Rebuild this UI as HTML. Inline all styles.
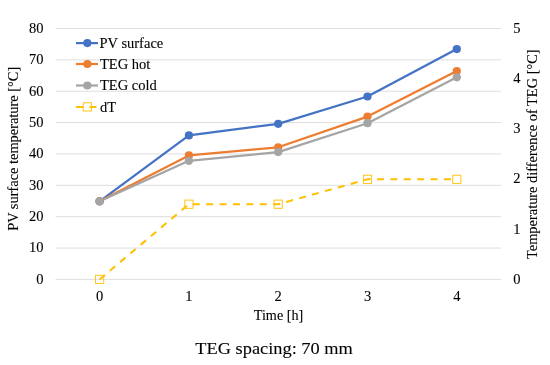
<!DOCTYPE html>
<html><head><meta charset="utf-8"><style>
html,body{margin:0;padding:0;background:#fff;width:550px;height:365px;overflow:hidden}
svg{display:block;filter:blur(0.35px)}
text{font-family:"Liberation Serif",serif;fill:#000;stroke:#000;stroke-width:0.1px}
</style></head><body>
<svg width="550" height="365" viewBox="0 0 550 365">
<g stroke="#dedede" stroke-width="1"><line x1="55.5" y1="279.40" x2="501" y2="279.40"/><line x1="55.5" y1="248.04" x2="501" y2="248.04"/><line x1="55.5" y1="216.67" x2="501" y2="216.67"/><line x1="55.5" y1="185.31" x2="501" y2="185.31"/><line x1="55.5" y1="153.95" x2="501" y2="153.95"/><line x1="55.5" y1="122.58" x2="501" y2="122.58"/><line x1="55.5" y1="91.22" x2="501" y2="91.22"/><line x1="55.5" y1="59.86" x2="501" y2="59.86"/><line x1="55.5" y1="28.50" x2="501" y2="28.50"/></g>
<g font-size="14.5" text-anchor="end"><text x="43.6" y="283.70">0</text><text x="43.6" y="252.34">10</text><text x="43.6" y="220.97">20</text><text x="43.6" y="189.61">30</text><text x="43.6" y="158.25">40</text><text x="43.6" y="126.88">50</text><text x="43.6" y="95.52">60</text><text x="43.6" y="64.16">70</text><text x="43.6" y="32.80">80</text></g>
<g font-size="14.5" text-anchor="start"><text x="513.2" y="283.70">0</text><text x="513.2" y="233.52">1</text><text x="513.2" y="183.34">2</text><text x="513.2" y="133.16">3</text><text x="513.2" y="82.98">4</text><text x="513.2" y="32.80">5</text></g>
<g font-size="14.5" text-anchor="middle"><text x="99.60" y="301.2">0</text><text x="188.90" y="301.2">1</text><text x="278.20" y="301.2">2</text><text x="367.50" y="301.2">3</text><text x="456.80" y="301.2">4</text></g>
<text font-size="14.2" text-anchor="middle" x="278.5" y="320.2">Time [h]</text>
<text font-size="14.4" text-anchor="middle" transform="translate(17.9,148.8) rotate(-90)">PV surface temperature [°C]</text>
<text font-size="14.4" text-anchor="middle" transform="translate(537.2,154.2) rotate(-90)">Temperature difference of TEG [°C]</text>
<text font-size="17.6" text-anchor="middle" x="274.1" y="353.5" textLength="157.5" lengthAdjust="spacingAndGlyphs">TEG spacing: 70 mm</text>
<g fill="none" stroke-width="2.25" stroke-linejoin="round">
<polyline stroke="#4472C4" points="99.60,201.30 188.90,135.40 278.20,123.80 367.50,96.50 456.80,49.10"/>
<polyline stroke="#ED7D31" points="99.60,201.30 188.90,155.40 278.20,147.30 367.50,116.60 456.80,71.00"/>
<polyline stroke="#A5A5A5" points="99.60,201.30 188.90,160.80 278.20,152.10 367.50,123.20 456.80,77.30"/>
</g>
<g fill="#4472C4"><circle cx="99.60" cy="201.30" r="4.1"/><circle cx="188.90" cy="135.40" r="4.1"/><circle cx="278.20" cy="123.80" r="4.1"/><circle cx="367.50" cy="96.50" r="4.1"/><circle cx="456.80" cy="49.10" r="4.1"/></g>
<g fill="#ED7D31"><circle cx="99.60" cy="201.30" r="4.1"/><circle cx="188.90" cy="155.40" r="4.1"/><circle cx="278.20" cy="147.30" r="4.1"/><circle cx="367.50" cy="116.60" r="4.1"/><circle cx="456.80" cy="71.00" r="4.1"/></g>
<g fill="#A5A5A5"><circle cx="99.60" cy="201.30" r="4.1"/><circle cx="188.90" cy="160.80" r="4.1"/><circle cx="278.20" cy="152.10" r="4.1"/><circle cx="367.50" cy="123.20" r="4.1"/><circle cx="456.80" cy="77.30" r="4.1"/></g>
<polyline fill="none" stroke="#FFC000" stroke-width="2" stroke-dasharray="7 6.4" points="99.60,279.40 188.90,204.20 278.20,204.20 367.50,179.30 456.80,179.30"/>
<g fill="none" stroke="#FFC000" stroke-width="0.9"><rect x="95.50" y="275.30" width="8.2" height="8.2"/><rect x="184.80" y="200.10" width="8.2" height="8.2"/><rect x="274.10" y="200.10" width="8.2" height="8.2"/><rect x="363.40" y="175.20" width="8.2" height="8.2"/><rect x="452.70" y="175.20" width="8.2" height="8.2"/></g>
<g stroke-width="2.25">
<line x1="76" y1="43.1" x2="98" y2="43.1" stroke="#4472C4"/>
<line x1="76" y1="64.0" x2="98" y2="64.0" stroke="#ED7D31"/>
<line x1="76" y1="85.5" x2="98" y2="85.5" stroke="#A5A5A5"/>
<line x1="76" y1="106.9" x2="98" y2="106.9" stroke="#FFC000" stroke-width="2" stroke-dasharray="7 6.4"/>
</g>
<circle cx="87.35" cy="43.1" r="4.1" fill="#4472C4"/>
<circle cx="87.35" cy="64.0" r="4.1" fill="#ED7D31"/>
<circle cx="87.35" cy="85.5" r="4.1" fill="#A5A5A5"/>
<rect x="83.25" y="102.8" width="8.2" height="8.2" fill="none" stroke="#FFC000" stroke-width="0.9"/>
<g font-size="14.5">
<text x="99.5" y="47.6">PV surface</text>
<text x="100" y="68.9">TEG hot</text>
<text x="100" y="90.2">TEG cold</text>
<text x="100" y="111.6">dT</text>
</g>
</svg>
</body></html>
